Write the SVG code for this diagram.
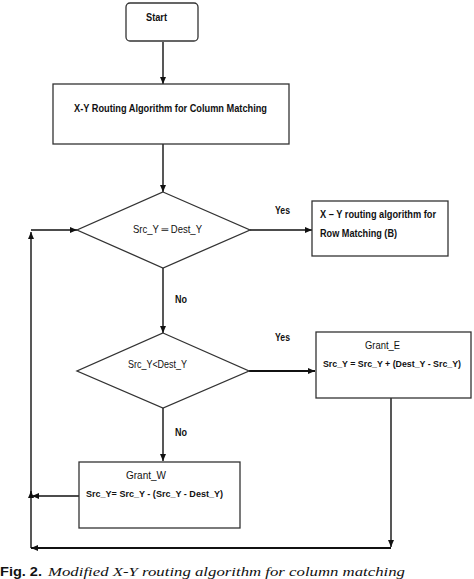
<svg xmlns="http://www.w3.org/2000/svg" width="474" height="579" viewBox="0 0 474 579">
<style>
.s{fill:#fff;stroke:#333;stroke-width:1.3}
.t{font-family:"Liberation Sans",Arial,sans-serif;font-size:10.5px;font-weight:bold;fill:#111}
.n{font-family:"Liberation Sans",Arial,sans-serif;font-size:10.5px;fill:#111}
.sm{font-size:9px}
.cap1{font-family:"Liberation Sans",Arial,sans-serif;font-weight:bold;font-size:12px;fill:#111}
.cap2{font-family:"Liberation Serif","Times New Roman",serif;font-style:italic;font-size:13px;fill:#111}
.c{fill:none;stroke:#111;stroke-width:1.4}
.cb{fill:none;stroke:#111;stroke-width:2}
</style>
<defs>
<marker id="ah" markerWidth="8" markerHeight="8" refX="7" refY="4" orient="auto" markerUnits="userSpaceOnUse">
<path d="M0,1 L7,4 L0,7 Z" fill="#111"/>
</marker>
</defs>
<rect width="474" height="579" fill="#fff"/>
<g id="connectors">
<line class="c" x1="163" y1="42" x2="163" y2="84" marker-end="url(#ah)"/>
<line class="c" x1="163" y1="144" x2="163" y2="192" marker-end="url(#ah)"/>
<line class="c" x1="250" y1="230" x2="312" y2="230" marker-end="url(#ah)"/>
<line class="c" x1="163" y1="268" x2="163" y2="333" marker-end="url(#ah)"/>
<line class="cb" x1="249" y1="371" x2="315" y2="371" marker-end="url(#ah)"/>
<line class="c" x1="163" y1="408" x2="163" y2="461" marker-end="url(#ah)"/>
<line class="c" x1="79" y1="496" x2="32" y2="496" marker-end="url(#ah)"/>
<line class="c" x1="391" y1="398" x2="391" y2="547" marker-end="url(#ah)"/>
<line class="cb" x1="391" y1="548" x2="31" y2="548" marker-end="url(#ah)"/>
<line class="c" x1="31" y1="548" x2="31" y2="491" marker-end="url(#ah)"/>
<line class="c" x1="31" y1="496" x2="31" y2="232" marker-end="url(#ah)"/>
<line class="c" x1="31" y1="230" x2="77" y2="230" marker-end="url(#ah)"/>
</g>
<g id="start">
<rect class="s" x="126" y="3" width="72" height="38" rx="4"/>
<text class="t" x="146" y="21" textLength="21" lengthAdjust="spacingAndGlyphs">Start</text>
</g>
<g id="column-matching">
<rect class="s" x="53" y="84" width="236" height="60"/>
<text class="t" x="74" y="112" textLength="193" lengthAdjust="spacingAndGlyphs">X-Y Routing Algorithm for Column Matching</text>
</g>
<g id="decision-equal">
<polygon class="s" points="163,192 250,230 163,268 77,230"/>
<text class="n" x="133" y="233" textLength="69" lengthAdjust="spacingAndGlyphs">Src_Y ═ Dest_Y</text>
</g>
<g id="row-matching">
<rect class="s" x="312" y="201" width="136" height="55"/>
<text class="t" x="320" y="218" textLength="116" lengthAdjust="spacingAndGlyphs">X – Y routing algorithm for</text>
<text class="t" x="320" y="237" textLength="77" lengthAdjust="spacingAndGlyphs">Row Matching (B)</text>
</g>
<g id="decision-less">
<polygon class="s" points="163,333 249,371 163,408 77,371"/>
<text class="n" x="128" y="368" textLength="59" lengthAdjust="spacingAndGlyphs">Src_Y&lt;Dest_Y</text>
</g>
<g id="grant-e">
<rect class="s" x="316" y="332" width="155" height="66"/>
<text class="n" x="365" y="349" textLength="35" lengthAdjust="spacingAndGlyphs">Grant_E</text>
<text class="t sm" x="323" y="367" textLength="138" lengthAdjust="spacingAndGlyphs">Src_Y = Src_Y +  (Dest_Y - Src_Y)</text>
</g>
<g id="grant-w">
<rect class="s" x="79" y="462" width="161" height="66"/>
<text class="n" x="126" y="479" textLength="40" lengthAdjust="spacingAndGlyphs">Grant_W</text>
<text class="t sm" x="86" y="497" textLength="137" lengthAdjust="spacingAndGlyphs">Src_Y= Src_Y -  (Src_Y - Dest_Y)</text>
</g>
<g id="labels">
<text class="t" x="275" y="214" textLength="15" lengthAdjust="spacingAndGlyphs">Yes</text>
<text class="t" x="175" y="303" textLength="12" lengthAdjust="spacingAndGlyphs">No</text>
<text class="t" x="275" y="341" textLength="15" lengthAdjust="spacingAndGlyphs">Yes</text>
<text class="t" x="175" y="436" textLength="12" lengthAdjust="spacingAndGlyphs">No</text>
</g>
<g id="caption">
<text class="cap1" x="0" y="576" textLength="42" lengthAdjust="spacingAndGlyphs">Fig. 2.</text>
<text class="cap2" x="48" y="576" textLength="357" lengthAdjust="spacingAndGlyphs">Modified X-Y routing algorithm for column matching</text>
</g>
</svg>
